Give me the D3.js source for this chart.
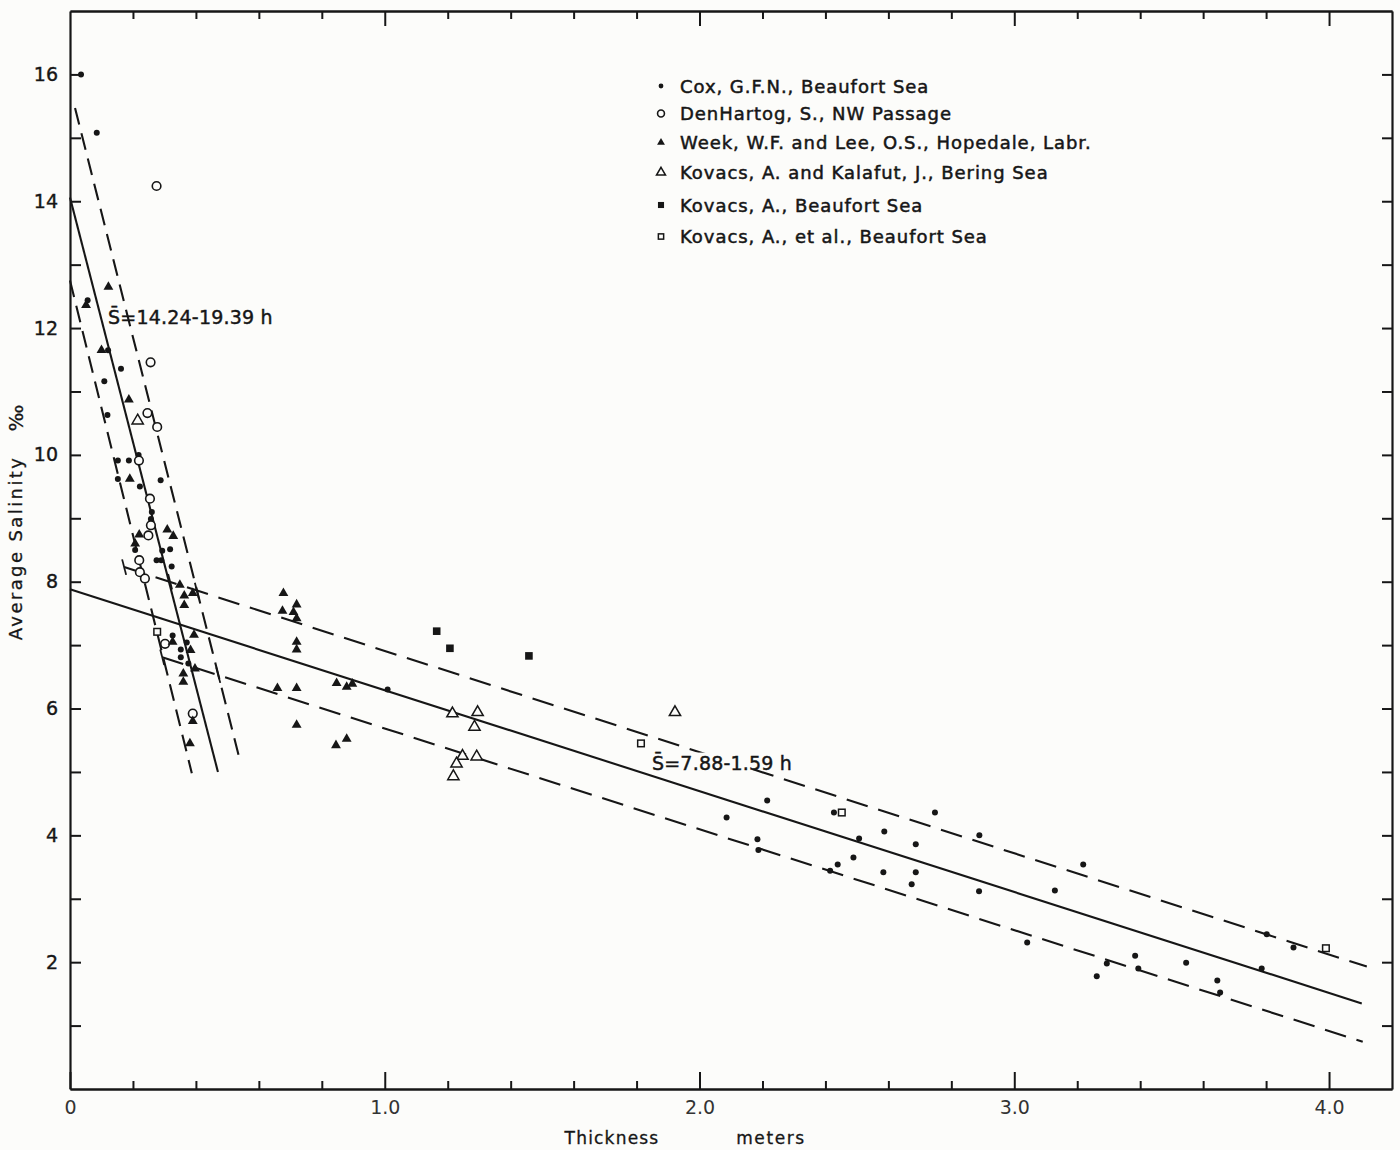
<!DOCTYPE html>
<html><head><meta charset="utf-8">
<script src="https://cdn.jsdelivr.net/npm/d3@7"></script>
<style>body{margin:0;background:#fcfcfa}svg{display:block}</style>
</head><body><svg id="c" width="1400" height="1150"></svg>
<script>
// ---- data (h = thickness in m, S = average salinity ‰) ----
const coxData = [[0.035,16.0],[0.085,15.08],[0.056,12.44],[0.121,11.65],[0.162,11.36],[0.109,11.16],[0.119,10.63],
 [0.152,9.91],[0.187,9.91],[0.218,10.0],[0.152,9.62],[0.288,9.6],[0.222,9.5],[0.26,9.1],[0.257,8.99],[0.207,8.5],
 [0.293,8.49],[0.318,8.51],[0.275,8.34],[0.29,8.34],[0.323,8.24],[0.326,7.15],[0.371,7.04],[0.352,6.93],[0.352,6.81],
 [0.376,6.71],[1.009,6.3],[2.215,4.55],[2.086,4.28],[2.427,4.36],[2.748,4.36],[2.184,3.94],[2.187,3.77],[2.507,3.95],
 [2.587,4.06],[2.687,3.86],[2.889,4.0],[2.489,3.65],[2.439,3.54],[2.415,3.44],[2.584,3.42],[2.687,3.42],[2.674,3.23],
 [2.888,3.12],[3.041,2.31],[3.219,3.54],[3.129,3.13],[3.294,1.98],[3.262,1.78],[3.384,2.1],[3.394,1.9],[3.546,1.99],
 [3.645,1.71],[3.654,1.52],[3.786,1.9],[3.802,2.44],[3.887,2.23]];
const denHartogData = [[0.275,14.24],[0.256,11.46],[0.246,10.66],[0.277,10.44],[0.219,9.91],[0.254,9.31],[0.257,8.89],
 [0.249,8.73],[0.22,8.34],[0.222,8.15],[0.238,8.05],[0.302,7.02],[0.39,5.92]];
const weekLeeData = [[0.051,12.36],[0.122,12.65],[0.10,11.65],[0.187,10.87],[0.19,9.62],[0.22,8.74],[0.309,8.82],
 [0.328,8.72],[0.207,8.6],[0.349,7.95],[0.363,7.78],[0.363,7.63],[0.39,7.82],[0.326,7.05],[0.394,7.16],[0.383,6.92],
 [0.397,6.63],[0.36,6.55],[0.36,6.42],[0.39,5.8],[0.381,5.45],[0.678,7.82],[0.675,7.54],[0.72,7.64],[0.71,7.52],
 [0.72,7.42],[0.72,7.05],[0.72,6.93],[0.659,6.32],[0.72,6.32],[0.72,5.74],[0.847,6.4],[0.879,6.34],[0.897,6.39],
 [0.845,5.42],[0.879,5.52]];
const kovacsKalafutData = [[0.215,10.54],[1.215,5.92],[1.295,5.94],[1.285,5.71],[1.247,5.25],[1.228,5.13],[1.292,5.24],
 [1.218,4.93],[1.922,5.94]];
const kovacsBeaufortData = [[1.165,7.22],[1.207,6.95],[1.458,6.83]];
const kovacsEtAlData = [[0.277,7.21],[1.814,5.45],[2.452,4.36],[3.99,2.22]];

const seriesNames = ["Cox, G.F.N., Beaufort Sea","DenHartog, S., NW Passage","Week, W.F. and Lee, O.S., Hopedale, Labr.",
 "Kovacs, A. and Kalafut, J., Bering Sea","Kovacs, A., Beaufort Sea","Kovacs, A., et al., Beaufort Sea"];
const seriesMarkers = ["dot","circle","triangle","triangleOpen","square","squareOpen"];

// regression lines (endpoints in data units) and their bands
const fitSteep = [[0,14.06],[0.47,5.0]];
const fitSteepUpper = [[0.016,15.47],[0.54,5.18]];
const fitSteepLower = [[0,12.75],[0.387,4.98]];
const fitFlat = [[0,7.88],[4.104,1.35]];
const fitFlatUpper = [[0.172,8.23],[4.12,1.93]];
const fitFlatLower = [[0.293,6.81],[4.107,0.745]];
const crossMarks = [[0.172,8.23],[0.318,8.0],[0.403,7.86],[0.293,6.81],[0.471,6.527]];
const fitLabels = [{h:0.121,S:12.06,text:"S\u0304=14.24-19.39 h",knockout:false},
                   {h:1.849,S:5.03,text:"S\u0304=7.88-1.59 h",knockout:true}];

const xMajorTicks = [0,1,2,3,4];
const xTickLabels = ["0","1.0","2.0","3.0","4.0"];
const xMinorTicks = [0.2,0.4,0.6,0.8,1.2,1.4,1.6,1.8,2.2,2.4,2.6,2.8,3.2,3.4,3.6,3.8];
const yTicks = [1,2,3,4,5,6,7,8,9,10,11,12,13,14,15,16];
const yTickLabels = ["","2","","4","","6","","8","","10","","12","","14","","16"];

// ---- drawing ----
const ink = "#161616", paper = "#fcfcfa";
const svg = d3.select("#c");
svg.append("rect").attr("width",1400).attr("height",1150).attr("fill",paper);
const x = d3.scaleLinear().domain([0,4.2]).range([70,1392]);
const y = d3.scaleLinear().domain([0,17]).range([1089,11]);
const font = "'DejaVu Sans', sans-serif";
function heavy(sel, w){ return sel.attr("stroke",ink).attr("stroke-width",w==null?0.45:w).attr("fill",ink); }

function styleAxis(g){
  g.selectAll("path.domain").attr("stroke",ink).attr("stroke-width",2.2);
  g.selectAll(".tick line").attr("stroke",ink).attr("stroke-width",2);
  g.selectAll(".tick text").attr("fill",ink).attr("font-family",font);
}
// bottom
svg.append("g").attr("transform",`translate(0,${y(0)})`)
  .call(d3.axisBottom(x).tickValues(xMinorTicks).tickSize(-8).tickSizeOuter(0).tickFormat(""))
  .call(styleAxis);
svg.append("g").attr("transform",`translate(0,${y(0)})`)
  .call(d3.axisBottom(x).tickValues(xMajorTicks).tickSize(-17).tickSizeOuter(0).tickPadding(12)
    .tickFormat((d,i)=>xTickLabels[i]))
  .call(styleAxis).call(g=>g.selectAll(".tick text").attr("font-size",19).attr("fill","#333"));
// top
svg.append("g").attr("transform",`translate(0,${y(17)})`)
  .call(d3.axisTop(x).tickValues(xMinorTicks).tickSize(-8).tickSizeOuter(0).tickFormat(""))
  .call(styleAxis);
svg.append("g").attr("transform",`translate(0,${y(17)})`)
  .call(d3.axisTop(x).tickValues([1,2,3,4]).tickSize(-15).tickSizeOuter(0).tickFormat(""))
  .call(styleAxis);
// left
svg.append("g").attr("transform",`translate(${x(0)},0)`)
  .call(d3.axisLeft(y).tickValues(yTicks).tickSize(-11).tickSizeOuter(0).tickPadding(12)
    .tickFormat((d,i)=>yTickLabels[i]))
  .call(styleAxis).call(g=>heavy(g.selectAll(".tick text").attr("font-size",19),0.4));
// right
svg.append("g").attr("transform",`translate(${x(4.2)},0)`)
  .call(d3.axisRight(y).tickValues(yTicks).tickSize(-10).tickSizeOuter(0).tickFormat(""))
  .call(styleAxis);

// axis titles
heavy(svg.append("text").attr("x",612).attr("y",1144).attr("text-anchor","middle").attr("font-family",font)
  .attr("font-size",17).attr("letter-spacing",1.2).text("Thickness"),0.3);
heavy(svg.append("text").attr("x",771).attr("y",1144).attr("text-anchor","middle").attr("font-family",font)
  .attr("font-size",17).attr("letter-spacing",1.6).text("meters"),0.3);
heavy(svg.append("text").attr("transform","translate(22,548) rotate(-90)").attr("text-anchor","middle").attr("font-family",font)
  .attr("font-size",18).attr("letter-spacing",2.4).text("Average Salinity"),0.3);
heavy(svg.append("text").attr("transform","translate(23,418) rotate(-90)").attr("text-anchor","middle").attr("font-family",font)
  .attr("font-size",20).text("\u2030"),0.3);

// regression lines
const line = d3.line().x(d=>x(d[0])).y(d=>y(d[1]));
function drawFit(data, dash){
  svg.append("path").datum(data).attr("d",line).attr("fill","none").attr("stroke",ink)
    .attr("stroke-width",2.1).attr("stroke-dasharray",dash||null);
}
drawFit(fitSteep); drawFit(fitSteepUpper,"17,9"); drawFit(fitSteepLower,"17,9");
drawFit(fitFlat); drawFit(fitFlatUpper,"22,11"); drawFit(fitFlatLower,"22,11");
// small crossing marks (segment along steep band direction)
const steepDir = (()=>{const dx=x(fitSteep[1][0])-x(fitSteep[0][0]), dy=y(fitSteep[1][1])-y(fitSteep[0][1]);
  const L=Math.hypot(dx,dy); return [dx/L,dy/L];})();
svg.append("g").selectAll("line").data(crossMarks).join("line")
  .attr("x1",d=>x(d[0])-8*steepDir[0]).attr("y1",d=>y(d[1])-8*steepDir[1])
  .attr("x2",d=>x(d[0])+8*steepDir[0]).attr("y2",d=>y(d[1])+8*steepDir[1])
  .attr("stroke",ink).attr("stroke-width",1.8);
fitLabels.forEach(d=>{
  const g = svg.append("g");
  const bg = g.append("rect").attr("fill",paper);
  const t = heavy(g.append("text").attr("x",x(d.h)).attr("y",y(d.S)).attr("font-family",font).attr("font-size",19)
    .attr("letter-spacing",0.2).text(d.text),0.45);
  if(d.knockout){
    const b = t.node().getBBox();
    bg.attr("x",b.x+14).attr("y",b.y+2).attr("width",b.width-14).attr("height",y(d.S)-b.y-3);
  } else bg.remove();
});

// markers
function drawMarker(g, type, scale){
  const s = scale||1;
  if(type==="dot") g.append("circle").attr("r",3*s).attr("fill",ink);
  else if(type==="circle") g.append("circle").attr("r",4.3*s).attr("fill",paper).attr("stroke",ink).attr("stroke-width",1.6);
  else if(type==="triangle") g.append("path").attr("d",d3.symbol(d3.symbolTriangle, 42*s*s)()).attr("fill",ink);
  else if(type==="triangleOpen") g.append("path").attr("d",d3.symbol(d3.symbolTriangle, 55*s*s)()).attr("fill",paper).attr("stroke",ink).attr("stroke-width",1.5);
  else if(type==="square") g.append("rect").attr("x",-3.8*s).attr("y",-3.8*s).attr("width",7.6*s).attr("height",7.6*s).attr("fill",ink);
  else if(type==="squareOpen") g.append("rect").attr("x",-3.3*s).attr("y",-3.3*s).attr("width",6.6*s).attr("height",6.6*s).attr("fill",paper).attr("stroke",ink).attr("stroke-width",1.5);
}
const allSeries = [coxData, denHartogData, weekLeeData, kovacsKalafutData, kovacsBeaufortData, kovacsEtAlData];
allSeries.forEach((data,i)=>{
  svg.append("g").selectAll("g").data(data).join("g")
    .attr("transform",d=>`translate(${x(d[0])},${y(d[1])})`)
    .each(function(){ drawMarker(d3.select(this), seriesMarkers[i]); });
});

// legend
const legend = svg.append("g");
const legY = [86,113.5,142.5,172.5,205,236.5];
seriesNames.forEach((name,i)=>{
  const g = legend.append("g").attr("transform",`translate(661,${legY[i]})`);
  drawMarker(g, seriesMarkers[i], 0.8);
  heavy(g.append("text").attr("x",19).attr("y",6.5).attr("font-family",font).attr("font-size",18)
    .attr("letter-spacing",0.95).text(name),0.5);
});
</script></body></html>
